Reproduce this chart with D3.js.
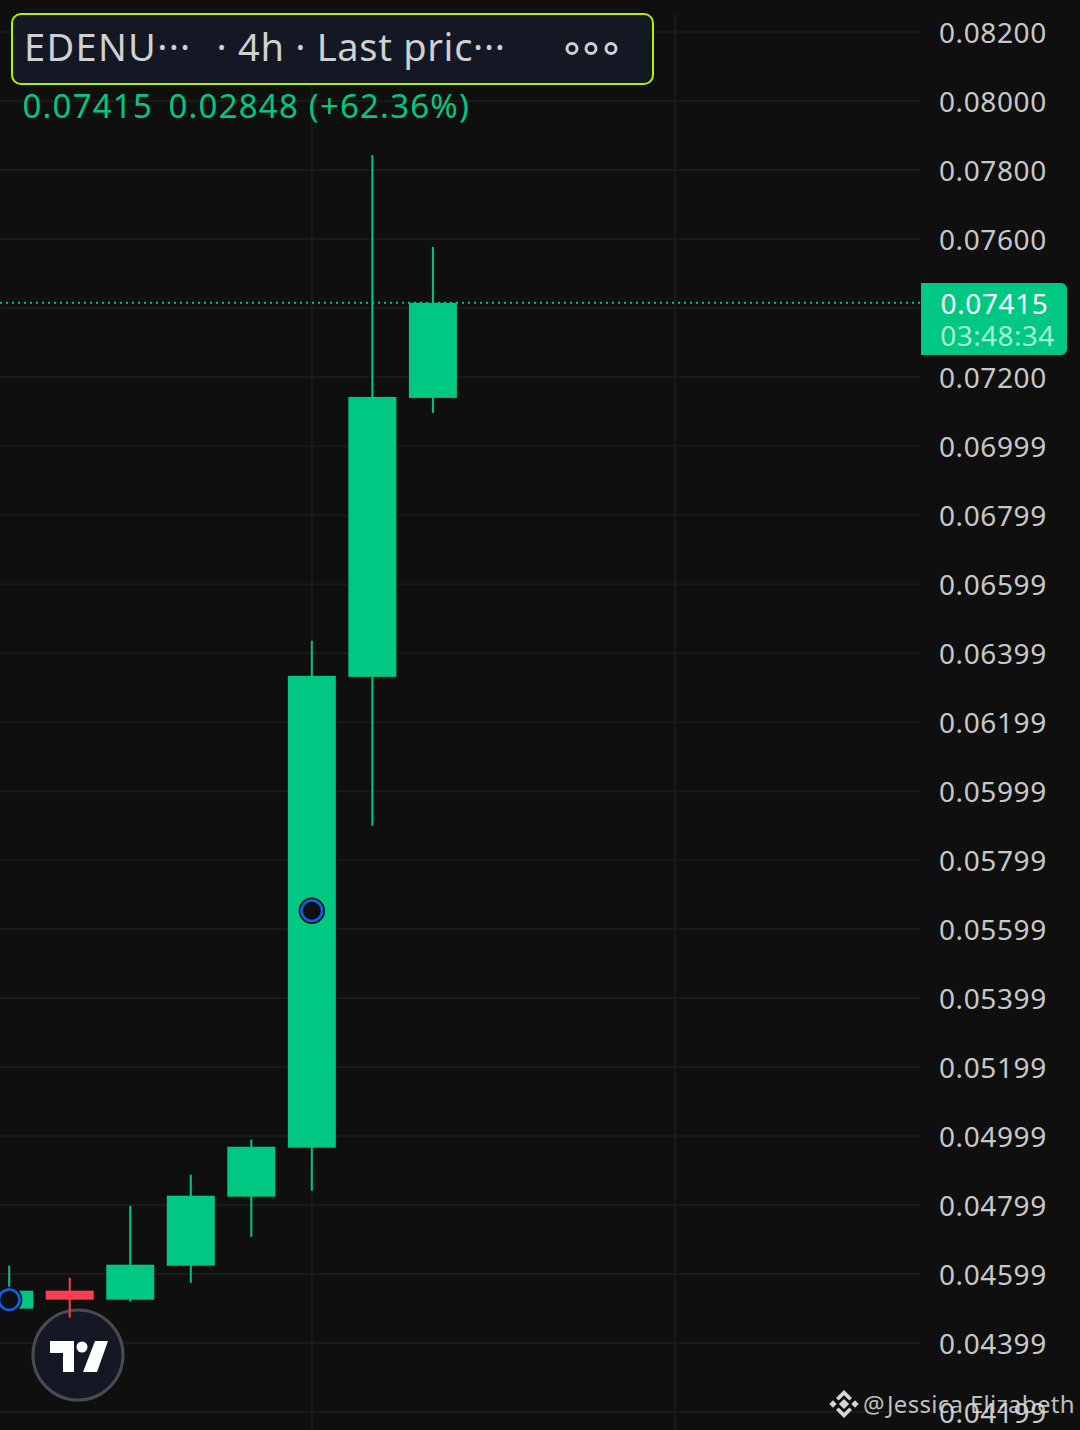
<!DOCTYPE html>
<html>
<head>
<meta charset="utf-8">
<script src="https://cdnjs.cloudflare.com/ajax/libs/d3/7.8.5/d3.min.js"></script>
<style>
html,body{margin:0;padding:0;background:#0f0f0f;}
svg{display:block;font-family:"Noto Sans",sans-serif;}
</style>
</head>
<body>
<svg id="chart" width="1080" height="1430"></svg>
<script>
const candleIndex = [0,1,2,3,4,5,6,7];
const opens  = [0.044986,0.045507,0.045246,0.046232,0.048232,0.049652,0.063304,0.071391];
const closes = [0.045507,0.045246,0.046261,0.048261,0.049681,0.063333,0.071420,0.074150];
const highs  = [0.046232,0.045884,0.047971,0.048870,0.049884,0.064348,0.078435,0.075768];
const lows   = [0.044870,0.044725,0.045188,0.045739,0.047072,0.048406,0.058986,0.070957];
const priceTicks = [0.08200,0.08000,0.07800,0.07600,0.07400,0.07200,0.06999,0.06799,0.06599,0.06399,0.06199,0.05999,0.05799,0.05599,0.05399,0.05199,0.04999,0.04799,0.04599,0.04399,0.04199];
const verticalGridIndex = [5,11];
const lastPrice = 0.07415;
const markerPoints = [{i:0,price:0.045246},{i:5,price:0.056522}];

const green="#00c882", red="#fb3f4e", grid="#1a1a1a", label="#c8c8c8";
const svg=d3.select("#chart");
const W=1080,H=1430,plotR=920;

const y=d3.scaleLinear().domain([0.082,0.04199]).range([32,1412]);
const x=d3.scaleLinear().domain([0,11]).range([9.2,675]);
const bodyW=48;

svg.append("rect").attr("width",W).attr("height",H).attr("fill","#0f0f0f");

// grid
const gridG=svg.append("g");
gridG.selectAll("line.h").data(priceTicks).join("line").attr("class","h")
  .attr("x1",0).attr("x2",plotR).attr("y1",d=>y(d)).attr("y2",d=>y(d))
  .attr("stroke",grid).attr("stroke-width",2);
gridG.selectAll("line.v").data(verticalGridIndex).join("line").attr("class","v")
  .attr("x1",d=>x(d)).attr("x2",d=>x(d)).attr("y1",14).attr("y2",H)
  .attr("stroke",grid).attr("stroke-width",2);

// axis
const axis=d3.axisRight(y).tickValues(priceTicks).tickFormat(d3.format(".5f")).tickSize(0).tickPadding(0);
const axG=svg.append("g").attr("transform","translate(939,1.6)").call(axis);
axG.select(".domain").remove();
axG.selectAll("text").attr("fill",label).attr("font-size",28).attr("font-family",'"Noto Sans",sans-serif').attr("letter-spacing",0.6);

// TradingView badge (below the candles)
svg.append("circle").attr("cx",78).attr("cy",1355).attr("r",45).attr("fill","#141824").attr("stroke","#4a4a50").attr("stroke-width",3);
svg.append("path").attr("fill","#fff").attr("d","M50,1341H74V1372H63V1353H50Z");
svg.append("circle").attr("cx",82).attr("cy",1347).attr("r",5.5).attr("fill","#fff");
svg.append("path").attr("fill","#fff").attr("d","M95,1341H108L97,1372H83Z");

// candles
const data=candleIndex.map(i=>({i,o:opens[i],c:closes[i],h:highs[i],l:lows[i]}));
const colorOf=d=>d.c>=d.o?green:red;
const cg=svg.append("g");
cg.selectAll("line").data(data).join("line")
  .attr("x1",d=>x(d.i)).attr("x2",d=>x(d.i)).attr("y1",d=>y(d.h)).attr("y2",d=>y(d.l))
  .attr("stroke",colorOf).attr("stroke-width",2);
cg.selectAll("rect").data(data).join("rect")
  .attr("x",d=>x(d.i)-bodyW/2).attr("width",bodyW)
  .attr("y",d=>y(Math.max(d.o,d.c))).attr("height",d=>y(Math.min(d.o,d.c))-y(Math.max(d.o,d.c)))
  .attr("fill",colorOf);

// last price line
svg.append("line").attr("x1",0).attr("x2",plotR).attr("y1",y(lastPrice)).attr("y2",y(lastPrice))
  .attr("stroke",green).attr("stroke-width",2).attr("stroke-dasharray","2 4");

// markers
svg.append("g").selectAll("circle.halo").data(markerPoints).join("circle").attr("class","halo")
  .attr("cx",d=>x(d.i)).attr("cy",d=>y(d.price)).attr("r",12.2)
  .attr("fill","none").attr("stroke","#0b0e14").attr("stroke-width",2);
svg.append("g").selectAll("circle").data(markerPoints).join("circle")
  .attr("cx",d=>x(d.i)).attr("cy",d=>y(d.price)).attr("r",10.2)
  .attr("fill","#0f0f0f").attr("stroke","#0f5fe8").attr("stroke-width",2.5);

// price tag
svg.append("path").attr("fill",green)
  .attr("d","M921,283H1061a6,6 0 0 1 6,6V349a6,6 0 0 1 -6,6H921Z");
svg.append("text").attr("x",994.5).attr("y",314).attr("text-anchor","middle").attr("fill","#fff").attr("font-size",28).attr("letter-spacing",0.6).text(d3.format(".5f")(lastPrice));
svg.append("text").attr("x",997.5).attr("y",346).attr("text-anchor","middle").attr("fill","#a5f0d8").attr("font-size",28).attr("letter-spacing",0.4).text("03:48:34");

// legend box
svg.append("rect").attr("x",12).attr("y",14).attr("width",641).attr("height",70).attr("rx",9)
  .attr("fill","#141824").attr("stroke","#b4f000").attr("stroke-width",2);
svg.append("text").attr("x",24).attr("y",61).attr("fill","#d0d0d0").attr("font-size",38).attr("letter-spacing",1.3).text("EDENU\u00b7\u00b7\u00b7");
svg.append("text").attr("x",216.5).attr("y",61).attr("fill","#d0d0d0").attr("font-size",38).attr("letter-spacing",0.7).text("\u00b7 4h \u00b7 Last pric\u00b7\u00b7\u00b7");
svg.append("g").selectAll("circle").data([572,591,611]).join("circle")
  .attr("cx",d=>d).attr("cy",48.5).attr("r",5).attr("fill","none").attr("stroke","#d0d0d0").attr("stroke-width",3);
svg.append("text").attr("x",22.5).attr("y",118).attr("fill",green).attr("font-size",33).attr("letter-spacing",1.2)
  .text("0.07415");
svg.append("text").attr("x",168.5).attr("y",118).attr("fill",green).attr("font-size",33).attr("letter-spacing",1.2)
  .text("0.02848 (+62.36%)");

// watermark
const wm=svg.append("g").attr("fill","#d6d6d6");
wm.append("text").attr("x",863).attr("y",1413).attr("font-size",24).attr("fill-opacity",0.9).text("@");
wm.append("text").attr("x",887).attr("y",1413).attr("font-size",24).attr("letter-spacing",0.3).attr("fill-opacity",0.9).text("Jessica Elizabeth");
const logo=wm.append("g").attr("transform","translate(844,1404)");
[[0,0,3.6],[-11,0,2.6],[11,0,2.6]].forEach(p=>logo.append("rect").attr("x",p[0]-p[2]).attr("y",p[1]-p[2]).attr("width",p[2]*2).attr("height",p[2]*2).attr("transform",`rotate(45 ${p[0]} ${p[1]})`));
logo.append("path").attr("d","M0,-14L8,-6L5.4,-3.4L0,-8.8L-5.4,-3.4L-8,-6Z");
logo.append("path").attr("d","M0,14L8,6L5.4,3.4L0,8.8L-5.4,3.4L-8,6Z");
</script>
</body>
</html>
